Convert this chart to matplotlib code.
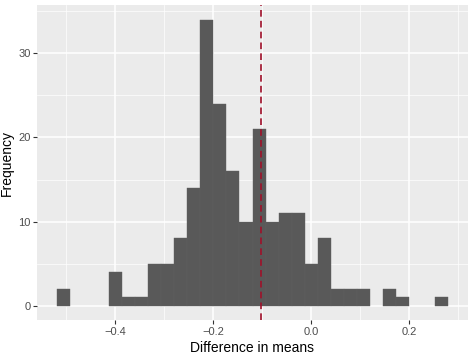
import numpy as np
import matplotlib
matplotlib.use("Agg")
import matplotlib.pyplot as plt

plt.rcParams["font.family"] = ["Liberation Sans", "DejaVu Sans"]

# Histogram: 30 bins from -0.52 to 0.28
bin_start = -0.52
bin_end = 0.28
counts = [2, 0, 0, 0, 4, 1, 1, 5, 5, 8, 14, 34, 24, 16, 10, 21, 10, 11, 11, 5,
          8, 2, 2, 2, 0, 2, 1, 0, 0, 1]
observed_diff = -0.103
x_ticks = [-0.4, -0.2, 0.0, 0.2]
x_tick_labels = ["-0.4", "-0.2", "0.0", "0.2"]
y_ticks = [0, 10, 20, 30]

edges = np.linspace(bin_start, bin_end, len(counts) + 1)
width = edges[1] - edges[0]
counts_arr = np.array(counts)
nz = counts_arr > 0

fig = plt.figure(figsize=(4.74, 3.55), dpi=100)
ax = fig.add_axes([37 / 474, 1 - 320 / 355, (468 - 37) / 474, (320 - 5.4) / 355])
ax.set_facecolor("#EBEBEB")

ax.bar(edges[:-1][nz], counts_arr[nz], width=width, align="edge", color="#595959",
       edgecolor="#606060", linewidth=0.3, zorder=3)
ax.axvline(observed_diff, color="#A0102A", linestyle=(0, (4, 2.5)), linewidth=1.2, zorder=4)

rng = bin_end - bin_start
ax.set_xlim(bin_start - 0.05 * rng, bin_end + 0.05 * rng)
ymax = max(counts)
ax.set_ylim(-0.05 * ymax, ymax * 1.05)

ax.set_xticks(x_ticks)
ax.set_xticklabels([l.replace("-", "\u2212") for l in x_tick_labels])
ax.set_yticks(y_ticks)
ax.set_xticks([-0.5, -0.3, -0.1, 0.1, 0.3], minor=True)
ax.set_yticks([5, 15, 25, 35], minor=True)

ax.grid(True, which="major", color="white", linewidth=1.1, zorder=0)
ax.grid(True, which="minor", color="white", linewidth=0.5, zorder=0)
ax.set_axisbelow(True)
for s in ax.spines.values():
    s.set_visible(False)

ax.tick_params(which="major", length=2.7, width=0.8, color="#333333",
               labelcolor="#4D4D4D", labelsize=8, pad=2)
ax.tick_params(which="minor", length=0)

ax.set_xlabel("Difference in means", fontsize=10, labelpad=3)
ax.set_ylabel("Frequency", fontsize=10, labelpad=3)

fig.savefig("out.png", dpi=100)
